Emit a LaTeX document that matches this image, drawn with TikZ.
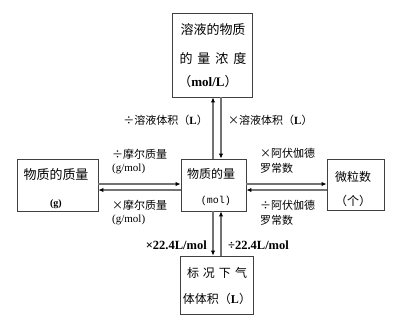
\documentclass[tikz,border=0pt]{standalone}
\usepackage{fontspec}
\setmainfont{Noto Sans CJK SC}
\newfontfamily\tnr{Liberation Serif}
\newfontfamily\mono{Liberation Mono}
\usetikzlibrary{arrows.meta}
\tikzset{
  box/.style={draw=black!75, line width=0.9pt, inner sep=0pt},
  arr/.style={draw=black!55, line width=1.3pt, -{Latex[length=5pt,width=4.5pt,black]}},
  lbl/.style={inner sep=0pt, font=\fontsize{11}{13}\selectfont},
  btxt/.style={inner sep=0pt, font=\fontsize{12}{14}\selectfont},
  bigtxt/.style={inner sep=0pt, font=\fontsize{13}{15}\selectfont},
}
\begin{document}
\begin{tikzpicture}[x=1pt,y=-1pt]
\useasboundingbox[fill=white] (0,0) rectangle (416,333);
% boxes
\node[box, minimum width=80pt, minimum height=84pt] (t) at (212.5,55) {};
\node[box, minimum width=65pt, minimum height=52pt] (c) at (213.5,185) {};
\node[box, minimum width=81pt, minimum height=52pt] (l) at (57.5,185) {};
\node[box, minimum width=57pt, minimum height=51pt] (r) at (355.5,184.5) {};
\node[box, minimum width=73pt, minimum height=58pt] (b) at (216.5,285) {};
% box texts
\node[bigtxt] (t1) at (213,30) {溶液的物质};
\node[bigtxt] (t2) at (213,59) {的\hspace{5pt}量\hspace{5pt}浓\hspace{5pt}度};
\node[bigtxt] (t3) at (208,82) {（{\tnr\bfseries mol/L}）};
\node[btxt] (c1) at (211,174) {物质的量};
\node[btxt] (c2) at (216,201) {\mono\fontsize{10}{12}\selectfont(mol)};
\node[bigtxt] (l1) at (56,175) {物质的质量};
\node[btxt] (l2) at (56,204) {\tnr\bfseries\fontsize{10}{11}\selectfont(g)};
\node[btxt] (r1) at (353,177) {微粒数};
\node[btxt] (r2) at (353,201) {（个）};
\node[btxt] (b1) at (217,273) {标\,\,况\,\,下\,\,气};
\node[btxt] (b2) at (217,299) {体体积（{\tnr\bfseries L}）};
% arrows
\draw[arr] ([xshift=-0.5pt]c.north) -- ([xshift=-0.5pt]c.north |- t.south);
\draw[arr] ([xshift=7.5pt]c.north |- t.south) -- ([xshift=7.5pt]c.north);
\draw[arr] ([xshift=-0.5pt]c.south) -- ([xshift=-0.5pt]c.south |- b.north);
\draw[arr] ([xshift=7.5pt]c.south |- b.north) -- ([xshift=7.5pt]c.south);
\draw[arr] ([yshift=1pt]l.east) -- ([yshift=1pt]l.east -| c.west);
\draw[arr] ([yshift=-5pt]l.east -| c.west) -- ([yshift=-5pt]l.east);
\draw[arr] ([yshift=1pt]c.east) -- ([yshift=1pt]c.east -| r.west);
\draw[arr] ([yshift=-5pt]c.east -| r.west) -- ([yshift=-5pt]c.east);
% labels
\node[lbl, anchor=east] (v1) at (208,120) {÷溶液体积（{\tnr\bfseries L}）};
\node[lbl, anchor=west] (v2) at (228,120) {×溶液体积（{\tnr\bfseries L}）};
\node[lbl, anchor=west] (m1) at (112,154) {÷摩尔质量};
\node[lbl, anchor=west] (m2) at (112,169) {\tnr(g/mol)};
\node[lbl, anchor=west] (m3) at (112,205) {×摩尔质量};
\node[lbl, anchor=west] (m4) at (112,220) {\tnr(g/mol)};
\node[lbl, anchor=west] (n1) at (260,153) {×阿伏伽德};
\node[lbl, anchor=west] (n2) at (260,168) {罗常数};
\node[lbl, anchor=west] (n3) at (260,205) {÷阿伏伽德};
\node[lbl, anchor=west] (n4) at (260,220) {罗常数};
\node[lbl, anchor=east] (s1) at (207,245) {\tnr\bfseries\fontsize{12.5}{14}\selectfont ×22.4L/mol};
\node[lbl, anchor=west] (s2) at (228,245) {\tnr\bfseries\fontsize{12.5}{14}\selectfont ÷22.4L/mol};
\end{tikzpicture}
\end{document}
